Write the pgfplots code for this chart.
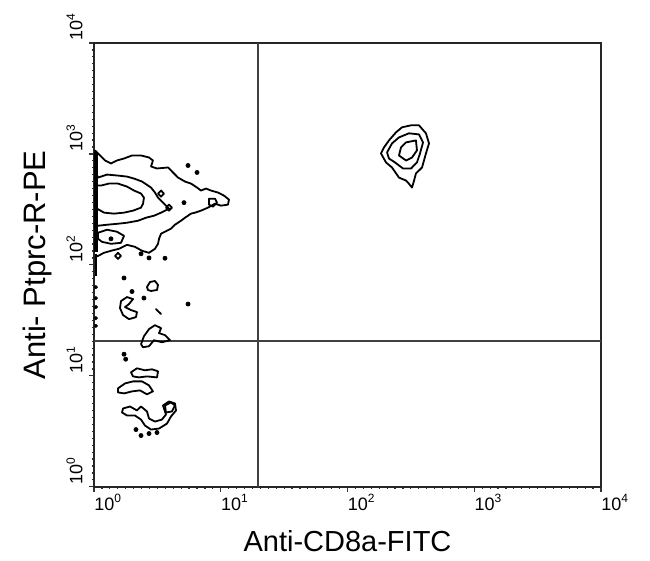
\documentclass[border=0pt]{standalone}
\usepackage{fontspec}
\setmainfont{Liberation Sans}
\usepackage{pgfplots}
\pgfplotsset{compat=1.18}
\pgfplotsset{cont/.style={black, line width=0.9pt, line join=round, line cap=round}}
\begin{document}
\begin{tikzpicture}
\begin{axis}[
  scale only axis, width=253.5pt, height=221.9pt,
  xmin=0, xmax=4, ymin=0, ymax=4,
  axis line style={line width=1pt, black!85},
  xtick={0,1,2,3,4}, ytick={0,1,2,3,4},
  xticklabels={{10\textsuperscript{0}},{10\textsuperscript{1}},{10\textsuperscript{2}},{10\textsuperscript{3}},{10\textsuperscript{4}}},
  yticklabels={{10\textsuperscript{0}},{10\textsuperscript{1}},{10\textsuperscript{2}},{10\textsuperscript{3}},{10\textsuperscript{4}}},
  minor tick num=15,
  tick align=outside, major tick length=2.5pt, minor tick length=1.2pt,
  xtick pos=bottom, ytick pos=left,
  tick style={black!80, line width=0.6pt},
  xticklabel style={anchor=north west, font=\fontsize{9}{10}\selectfont, inner sep=1pt, xshift=-1pt},
  yticklabel style={rotate=90, anchor=south west, font=\fontsize{9}{10}\selectfont, inner sep=1pt, yshift=2pt},
  xlabel={Anti-CD8a-FITC},
  ylabel={Anti- Ptprc-R-PE},
  xlabel style={at={(axis description cs:0.5,0)}, anchor=center, yshift=-27pt, font=\fontsize{14.5}{16}\selectfont},
  ylabel style={at={(axis description cs:-0.1105,0.5)}, anchor=center, font=\fontsize{15.5}{17}\selectfont},
  clip=true,
]
% quadrant gates
\addplot[black!75, line width=1pt] coordinates {(1.296,0) (1.296,4)};
\addplot[black!75, line width=1pt] coordinates {(0,1.311) (4,1.311)};
% dense pile-up at left edge
\addplot[black, line width=2.2pt] coordinates {(0.018,2.12) (0.018,3.02)};
\addplot[black, line width=1pt] coordinates {(0.012,1.90) (0.012,2.10)};
\addplot[only marks, mark=*, mark size=0.8pt, black] coordinates {(0.015,1.80) (0.015,1.70) (0.015,1.62) (0.015,1.52) (0.015,1.45)};
% upper-left population: outer contour
\addplot[cont] coordinates {(0.008,3.032) (0.032,3.005) (0.087,2.941) (0.134,2.914) (0.181,2.941) (0.237,2.959) (0.300,2.986) (0.371,2.986) (0.434,2.968) (0.465,2.941) (0.450,2.887) (0.497,2.869) (0.584,2.878) (0.631,2.824) (0.663,2.787) (0.718,2.751) (0.765,2.733) (0.813,2.697) (0.844,2.670) (0.884,2.688) (0.923,2.670) (0.978,2.652) (1.026,2.624) (1.065,2.588) (1.057,2.543) (1.002,2.534) (0.955,2.552) (0.899,2.516) (0.844,2.489) (0.797,2.471) (0.765,2.462) (0.718,2.425) (0.686,2.398) (0.639,2.362) (0.607,2.326) (0.560,2.299) (0.529,2.281) (0.513,2.235) (0.505,2.190) (0.481,2.145) (0.434,2.109) (0.379,2.127) (0.323,2.163) (0.260,2.181) (0.197,2.145) (0.134,2.127) (0.079,2.109) (0.032,2.081) (0.008,2.072)};
% middle contour
\addplot[cont] coordinates {(0.008,2.851) (0.032,2.787) (0.103,2.814) (0.189,2.805) (0.260,2.796) (0.316,2.778) (0.379,2.751) (0.450,2.697) (0.481,2.652) (0.505,2.606) (0.552,2.552) (0.592,2.507) (0.529,2.471) (0.473,2.443) (0.410,2.425) (0.347,2.398) (0.260,2.380) (0.189,2.371) (0.103,2.362) (0.032,2.353) (0.008,2.344)};
% inner contour
\addplot[cont] coordinates {(0.016,2.715) (0.055,2.715) (0.118,2.733) (0.189,2.733) (0.260,2.706) (0.316,2.670) (0.371,2.643) (0.394,2.606) (0.387,2.552) (0.371,2.516) (0.308,2.489) (0.237,2.471) (0.158,2.462) (0.079,2.471) (0.024,2.507) (0.016,2.624) (0.016,2.715)};
% lower loop of the upper population
\addplot[cont] coordinates {(0.032,2.290) (0.103,2.317) (0.181,2.299) (0.237,2.262) (0.213,2.199) (0.134,2.190) (0.063,2.208) (0.032,2.235) (0.032,2.290)};
% small loops
\addplot[cont] coordinates {(0.907,2.597) (0.955,2.597) (0.970,2.561) (0.939,2.525) (0.907,2.543) (0.907,2.597)};
\addplot[cont] coordinates {(0.505,2.643) (0.529,2.670) (0.552,2.643) (0.529,2.615) (0.505,2.643)};
\addplot[cont] coordinates {(0.568,2.516) (0.592,2.543) (0.615,2.516) (0.592,2.489) (0.568,2.516)};
\addplot[cont] coordinates {(0.166,2.081) (0.189,2.109) (0.213,2.081) (0.189,2.054) (0.166,2.081)};
\addplot[cont] coordinates {(0.418,1.801) (0.442,1.846) (0.481,1.855) (0.505,1.819) (0.497,1.774) (0.450,1.765) (0.426,1.774) (0.418,1.801)};
\addplot[cont] coordinates {(0.213,1.674) (0.260,1.710) (0.308,1.692) (0.276,1.647) (0.245,1.620) (0.292,1.593) (0.339,1.575) (0.331,1.529) (0.276,1.511) (0.229,1.548) (0.205,1.611) (0.213,1.674)};
\addplot[cont] coordinates {(0.489,1.602) (0.529,1.557)};
\addplot[cont] coordinates {(0.371,1.285) (0.394,1.357) (0.434,1.421) (0.481,1.457) (0.529,1.430) (0.513,1.385) (0.560,1.367) (0.600,1.321) (0.536,1.303) (0.473,1.321) (0.434,1.267) (0.387,1.258) (0.371,1.285)};
% lower-left population
\addplot[cont] coordinates {(0.292,1.032) (0.339,1.068) (0.402,1.050) (0.458,1.059) (0.505,1.041) (0.497,0.986) (0.418,0.995) (0.355,0.986) (0.308,0.995) (0.292,1.032)};
\addplot[cont] coordinates {(0.189,0.887) (0.245,0.932) (0.308,0.950) (0.379,0.950) (0.434,0.914) (0.465,0.860) (0.418,0.833) (0.363,0.869) (0.300,0.860) (0.237,0.842) (0.189,0.851) (0.189,0.887)};
\addplot[cont] coordinates {(0.229,0.706) (0.284,0.724) (0.339,0.688) (0.371,0.724) (0.418,0.679) (0.434,0.615) (0.481,0.588) (0.536,0.606) (0.568,0.652) (0.544,0.733) (0.592,0.769) (0.639,0.751) (0.647,0.688) (0.607,0.633) (0.576,0.570) (0.513,0.525) (0.450,0.516) (0.402,0.552) (0.371,0.606) (0.323,0.643) (0.260,0.643) (0.221,0.670) (0.229,0.706)};
\addplot[cont] coordinates {(0.560,0.733) (0.607,0.760) (0.639,0.733) (0.615,0.679) (0.568,0.670) (0.560,0.733)};
% upper-right population (CD8+)
\addplot[cont] coordinates {(2.264,3.005) (2.288,3.059) (2.327,3.122) (2.383,3.195) (2.430,3.240) (2.501,3.258) (2.564,3.258) (2.619,3.186) (2.643,3.095) (2.619,3.005) (2.588,2.878) (2.540,2.824) (2.525,2.760) (2.509,2.697) (2.477,2.742) (2.462,2.760) (2.406,2.787) (2.351,2.878) (2.304,2.923) (2.264,3.005)};
\addplot[cont] coordinates {(2.312,3.014) (2.351,3.095) (2.406,3.149) (2.485,3.186) (2.564,3.176) (2.596,3.104) (2.572,3.005) (2.548,2.923) (2.501,2.869) (2.438,2.869) (2.375,2.923) (2.327,2.959) (2.312,3.014)};
\addplot[cont] coordinates {(2.422,3.059) (2.462,3.104) (2.540,3.122) (2.548,3.032) (2.509,2.968) (2.462,2.941) (2.406,2.986) (2.422,3.059)};
% scattered events
\addplot[only marks, mark=*, mark size=1pt, black] coordinates {(0.237,1.195) (0.742,1.647) (0.237,1.882) (0.394,1.701) (0.331,0.516) (0.434,0.480) (0.371,0.462) (0.497,0.489) (0.742,2.896) (0.813,2.833) (0.710,2.561) (0.371,2.100) (0.434,2.063) (0.134,2.235) (0.250,1.150) (0.560,2.060) (0.300,1.760)};
\end{axis}
\pgfresetboundingbox
\path ([xshift=-47pt,yshift=-36.75pt]current axis.south west) rectangle ([xshift=24.5pt,yshift=21.5pt]current axis.north east);
\end{tikzpicture}
\end{document}
